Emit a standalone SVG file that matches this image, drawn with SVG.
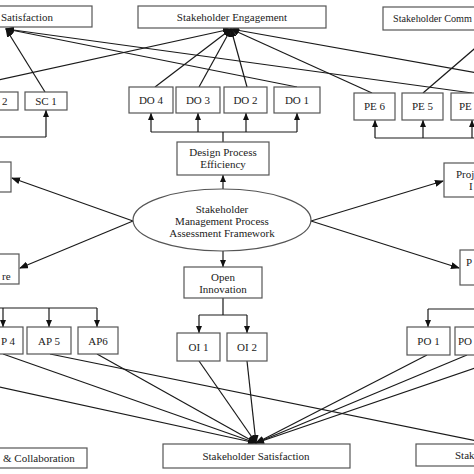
<svg xmlns="http://www.w3.org/2000/svg" width="474" height="474" viewBox="0 0 474 474">
<style>
rect.b{fill:#fff;stroke:#555;stroke-width:1.2}
ellipse.b{fill:#fff;stroke:#555;stroke-width:1.2}
text{font-family:"Liberation Serif","Times New Roman",serif;font-size:11px;fill:#222}
.c{text-anchor:middle}
#connectors line,#connectors path{stroke:#1a1a1a;stroke-width:1.2;fill:none}
</style>
<defs>
<marker id="ah" markerUnits="userSpaceOnUse" markerWidth="9" markerHeight="7" refX="8" refY="3.5" orient="auto"><path d="M0,0 L9,3.5 L0,7 z" fill="#111"/></marker>
<marker id="as" markerUnits="userSpaceOnUse" markerWidth="7" markerHeight="6" refX="7" refY="3" orient="auto"><path d="M0,0 L7,3 L0,6 z" fill="#111"/></marker>
</defs>
<rect width="474" height="474" fill="#fff"/>
<g id="connectors">
<line x1="45" y1="92" x2="6" y2="29" marker-end="url(#ah)"/>
<line x1="297" y1="87" x2="6" y2="29" marker-end="url(#ah)"/>
<line x1="472" y1="93" x2="6" y2="29" marker-end="url(#ah)"/>
<line x1="155" y1="87" x2="231" y2="29" marker-end="url(#ah)"/>
<line x1="199" y1="87" x2="231" y2="29" marker-end="url(#ah)"/>
<line x1="247" y1="87" x2="231" y2="29" marker-end="url(#ah)"/>
<line x1="372" y1="93" x2="231" y2="29" marker-end="url(#ah)"/>
<line x1="-20" y1="84" x2="231" y2="29" marker-end="url(#ah)"/>
<line x1="500" y1="77" x2="231" y2="29" marker-end="url(#ah)"/>
<line x1="423" y1="93" x2="495" y2="31"/>
<path d="M0,137 H46"/>
<line x1="46" y1="137" x2="46" y2="110" marker-end="url(#as)"/>
<path d="M223,142 V132 M151,132 H297"/>
<line x1="151" y1="132" x2="151" y2="113" marker-end="url(#as)"/>
<line x1="198" y1="132" x2="198" y2="113" marker-end="url(#as)"/>
<line x1="246" y1="132" x2="246" y2="113" marker-end="url(#as)"/>
<line x1="297" y1="132" x2="297" y2="113" marker-end="url(#as)"/>
<path d="M375,138 H474"/>
<line x1="375" y1="138" x2="375" y2="120" marker-end="url(#as)"/>
<line x1="423" y1="138" x2="423" y2="120" marker-end="url(#as)"/>
<line x1="472" y1="138" x2="472" y2="120" marker-end="url(#as)"/>
<line x1="223" y1="189" x2="223" y2="175" marker-end="url(#as)"/>
<line x1="223" y1="251" x2="223" y2="267" marker-end="url(#as)"/>
<line x1="133" y1="221" x2="12" y2="178" marker-end="url(#ah)"/>
<line x1="133" y1="221" x2="20" y2="268" marker-end="url(#ah)"/>
<line x1="311" y1="221" x2="443" y2="181" marker-end="url(#ah)"/>
<line x1="311" y1="221" x2="459" y2="268" marker-end="url(#ah)"/>
<path d="M223,298 V315 M199,315 H247"/>
<line x1="199" y1="315" x2="199" y2="333" marker-end="url(#as)"/>
<line x1="247" y1="315" x2="247" y2="333" marker-end="url(#as)"/>
<path d="M0,308 H97"/>
<line x1="3" y1="308" x2="3" y2="327" marker-end="url(#as)"/>
<line x1="49" y1="308" x2="49" y2="327" marker-end="url(#as)"/>
<line x1="97" y1="308" x2="97" y2="327" marker-end="url(#as)"/>
<path d="M428,309 H474"/>
<line x1="428" y1="309" x2="428" y2="327" marker-end="url(#as)"/>
<line x1="3" y1="354" x2="256" y2="443" marker-end="url(#ah)"/>
<line x1="-10" y1="385" x2="256" y2="443" marker-end="url(#ah)"/>
<line x1="97" y1="354" x2="256" y2="443" marker-end="url(#ah)"/>
<line x1="199" y1="361" x2="256" y2="443" marker-end="url(#ah)"/>
<line x1="247" y1="361" x2="256" y2="443" marker-end="url(#ah)"/>
<line x1="427" y1="355" x2="256" y2="443" marker-end="url(#ah)"/>
<line x1="467" y1="355" x2="256" y2="443" marker-end="url(#ah)"/>
<line x1="490" y1="363" x2="256" y2="443" marker-end="url(#ah)"/>
<line x1="50" y1="354" x2="492" y2="444"/>
</g>
<g id="n-top-sat"><rect class="b" x="-10" y="6" width="102" height="21"/><text x="1" y="21">Satisfaction</text></g>
<g id="n-top-eng"><rect class="b" x="138" y="6" width="188" height="22"/><text class="c" x="232" y="21">Stakeholder Engagement</text></g>
<g id="n-top-comm"><rect class="b" x="383" y="7" width="100" height="23"/><text x="393" y="22" style="font-size:10.2px">Stakeholder Comm</text></g>
<g id="n-sc2"><rect class="b" x="-25" y="92" width="43" height="18"/><text x="2" y="105">2</text></g>
<g id="n-sc1"><rect class="b" x="25" y="92" width="42" height="18"/><text class="c" x="46" y="105">SC 1</text></g>
<g id="n-do4"><rect class="b" x="129" y="87" width="44" height="26"/><text class="c" x="151" y="104">DO 4</text></g>
<g id="n-do3"><rect class="b" x="176" y="87" width="44" height="26"/><text class="c" x="198" y="104">DO 3</text></g>
<g id="n-do2"><rect class="b" x="224" y="87" width="43" height="26"/><text class="c" x="245.5" y="104">DO 2</text></g>
<g id="n-do1"><rect class="b" x="274" y="87" width="46" height="26"/><text class="c" x="297" y="104">DO 1</text></g>
<g id="n-pe6"><rect class="b" x="354" y="93" width="41" height="27"/><text class="c" x="374.5" y="110">PE 6</text></g>
<g id="n-pe5"><rect class="b" x="402" y="93" width="41" height="27"/><text class="c" x="422.5" y="110">PE 5</text></g>
<g id="n-pe4"><rect class="b" x="451" y="93" width="41" height="27"/><text x="459" y="110">PE</text></g>
<g id="n-design"><rect class="b" x="177" y="142" width="92" height="33"/><text class="c" x="223" y="156">Design Process</text><text class="c" x="223" y="168">Efficiency</text></g>
<g id="n-center"><ellipse class="b" cx="222" cy="220" rx="89" ry="31"/><text class="c" x="222" y="213">Stakeholder</text><text class="c" x="222" y="225">Management Process</text><text class="c" x="222" y="237">Assessment Framework</text></g>
<g id="n-left1"><rect class="b" x="-40" y="162" width="51" height="30"/></g>
<g id="n-left2"><rect class="b" x="-40" y="254" width="59" height="30"/><text x="2" y="280">re</text></g>
<g id="n-right1"><rect class="b" x="444" y="163" width="60" height="34"/><text x="456" y="178">Proj</text><text x="469" y="190">I</text></g>
<g id="n-right2"><rect class="b" x="460" y="250" width="50" height="35"/><text x="466" y="266">P</text></g>
<g id="n-open"><rect class="b" x="184" y="267" width="78" height="31"/><text class="c" x="223" y="281">Open</text><text class="c" x="223" y="293">Innovation</text></g>
<g id="n-oi1"><rect class="b" x="177" y="333" width="43" height="28"/><text class="c" x="198.5" y="351">OI 1</text></g>
<g id="n-oi2"><rect class="b" x="227" y="333" width="40" height="28"/><text class="c" x="247" y="351">OI 2</text></g>
<g id="n-ap4"><rect class="b" x="-20" y="327" width="43" height="27"/><text x="1" y="345">P 4</text></g>
<g id="n-ap5"><rect class="b" x="27" y="327" width="44" height="27"/><text class="c" x="49" y="345">AP 5</text></g>
<g id="n-ap6"><rect class="b" x="78" y="327" width="40" height="27"/><text class="c" x="98" y="345">AP6</text></g>
<g id="n-po1"><rect class="b" x="407" y="327" width="43" height="28"/><text class="c" x="428.5" y="345">PO 1</text></g>
<g id="n-po2"><rect class="b" x="455" y="327" width="45" height="28"/><text x="458" y="345">PO</text></g>
<g id="n-bot-collab"><rect class="b" x="-60" y="448" width="147" height="20"/><text x="3" y="462">&amp; Collaboration</text></g>
<g id="n-bot-sat"><rect class="b" x="163" y="444" width="187" height="24"/><text class="c" x="256" y="460">Stakeholder Satisfaction</text></g>
<g id="n-bot-stak"><rect class="b" x="416" y="444" width="80" height="22"/><text x="455" y="459">Stak</text></g>
</svg>
